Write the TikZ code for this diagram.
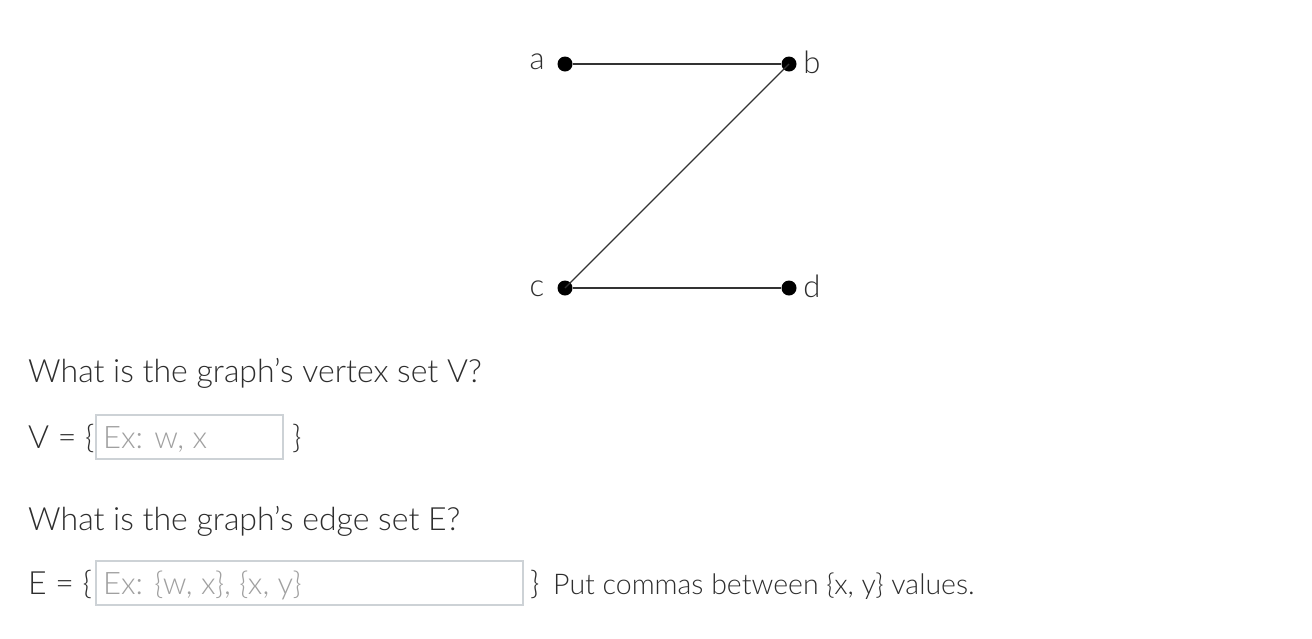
\documentclass[tikz,border=0pt]{standalone}
\usepackage{fontspec}
\setmainfont{Lato Light}
\definecolor{txt}{HTML}{2E2E2E}
\definecolor{ph}{HTML}{A0A0A0}
\definecolor{boxc}{HTML}{CDD2D6}
\newcommand{\apos}{{\char"0027}}
\begin{document}
\begin{tikzpicture}[x=1pt,y=-1pt,
  vtx/.style={circle,fill=black,inner sep=0pt,minimum size=15pt},
  vlabel/.style={text=txt,font=\fontsize{31}{36}\selectfont,inner sep=0pt},
  edge/.style={draw=black!80,line width=1.2pt},
  qtext/.style={text=txt,font=\fontsize{32}{38}\selectfont,anchor=base west,inner sep=0pt},
  small/.style={text=txt,font=\fontsize{28.5}{34}\selectfont,anchor=base west,inner sep=0pt},
  inbox/.style={draw=boxc,line width=2pt,fill=white},
  placeholder/.style={text=ph,font=\fontsize{31}{37}\selectfont,anchor=base west,inner sep=0pt}]
\useasboundingbox[fill=white] (0,0) rectangle (1312,638);
% graph
\node[vtx] (a) at (565,64) {};
\node[vtx] (b) at (789,64) {};
\node[vtx] (c) at (565,288) {};
\node[vtx] (d) at (789,288) {};
\node[vlabel] (la) at (537,62) {a};
\node[vlabel] (lb) at (812,62) {b};
\node[vlabel] (lc) at (537,289) {c};
\node[vlabel] (ld) at (812,286) {d};
\draw[edge] (a) -- (b);
\draw[edge] (b.center) -- (c.center);
\draw[edge] (c) -- (d);
% questions
\node[qtext] (q1) at (28,382) {What is the graph\apos s vertex set V?};
\node[qtext] (v) at (28,448) {V = \{};
\draw[inbox] (96,415) rectangle (283,459);
\node[placeholder] (pv) at (103,448) {Ex: w, x};
\node[qtext] (vc) at (292,448) {\}};
\node[qtext] (q2) at (28,530) {What is the graph\apos s edge set E?};
\node[qtext] (e) at (28,594) {E = \{};
\draw[inbox] (96,561) rectangle (523,605);
\node[placeholder] (pe) at (103,594) {Ex: \{w, x\}, \{x, y\}};
\node[qtext] (ec) at (530,594) {\}};
\node[small] (hint) at (553,594) {Put commas between \{x, y\} values.};
\end{tikzpicture}
\end{document}
